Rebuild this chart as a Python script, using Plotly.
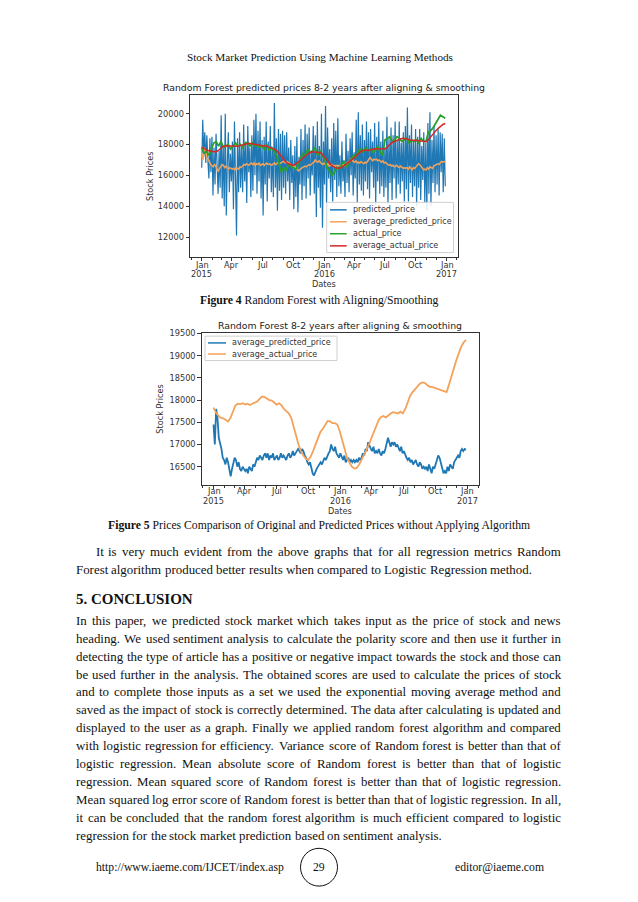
import plotly.graph_objects as go
import pandas as pd

W, H = 638, 902

# ------------------------------------------------------------------ data
# Figure 4: predicted_price (noisy daily-like predictions)
predicted_price = [
    16500, 19600, 17200, 18800, 16800, 18600, 17000, 15800, 18400, 16200,
    18500, 14700, 17800, 15400, 18700, 16400, 14800, 17600, 15200, 19900,
    14500, 17900, 14000, 20000, 13400, 16800, 18800, 14900, 17400, 15600,
    18200, 13800, 19500, 15800, 12100, 18400, 14900, 18800, 15200, 17900,
    14900, 19300, 15600, 18200, 14200, 19200, 16200, 17800, 14600, 18600,
    15000, 19600, 16000, 20000, 14800, 18900, 15600, 19500, 14500, 18300,
    13400, 18500, 15400, 19500, 14300, 18200, 15800, 19200, 14900, 17800,
    14600, 20700, 15200, 18400, 13700, 19000, 15000, 18700, 14400, 18900,
    15200, 18600, 14800, 18800, 15600, 17800, 14400, 18300, 15500, 17300,
    13800, 17900, 14600, 18500, 13600, 17200, 15400, 19000, 14400, 18300,
    15300, 19300, 14500, 18700, 15800, 19100, 14700, 17600, 16000, 19200,
    14800, 18600, 13300, 19500, 15200, 17900, 13900, 20000, 12600, 18200,
    15400, 20500, 14200, 19100, 15800, 17700, 14900, 18400, 14300, 19400,
    15700, 18900, 14600, 19700, 15300, 17300, 14800, 18200, 15600, 17000,
    14600, 18700, 15500, 17600, 14900, 18400, 16000, 18800, 14700, 17500,
    15800, 19600, 14200, 20100, 15400, 18600, 15000, 19300, 14700, 18300,
    15600, 19500, 15100, 18800, 14500, 19000, 16200, 18200, 15200, 19400,
    14100, 18500, 15600, 19500, 14800, 18200, 15300, 18900, 14600, 17800,
    15200, 19800, 14100, 18400, 15500, 19100, 14400, 18600, 15800, 19500,
    14500, 18300, 15400, 19500, 14800, 18100, 15600, 18800, 14300, 19200,
    15100, 20400, 14300, 18600, 15500, 19300, 14600, 18200, 15300, 19000,
    14000, 18500, 15200, 19000, 14400, 17900, 15700, 18800, 14200, 18100,
    13700, 19400, 14800, 20100, 14000, 18300, 15500, 19200, 14900, 18600,
    15400, 19000, 14700, 18800, 16200, 18700, 14900, 18400, 15300,
]

# Figure 4: actual_price
actual_price = [
    17800, 17400, 17600, 17300,
    17700, 18100, 18200, 17900,
    18200, 17800, 17900, 18000,
    17700, 17900, 18100, 17900,
    18000, 17800, 18100, 18100, 17900,
    18100, 17900, 18000, 17800,
    17900, 17700, 18000, 17600,
    17800, 17500, 17300, 16800,
    16200, 16500, 16300, 16700, 16600,
    16500, 16400, 16600, 17100,
    17400, 17300, 17700, 17500,
    17600, 17800, 17300, 17600, 17300,
    17000, 16500, 16300, 16000,
    16200, 16500, 16400, 16700,
    16900, 16500, 16800, 17000,
    17300, 17200, 17600, 17700, 17500,
    17800, 17600, 17700, 17500,
    17600, 17900, 17500, 17300,
    18300, 18400, 18500, 18200,
    18300, 18500, 18400, 18200, 18300,
    18400, 18100, 18300, 18200,
    18300, 18100, 18400, 18200,
    18200, 18800, 18900, 19100,
    19400, 19600, 19900, 19800, 19700,
]

# average_predicted_price (Fig 4 orange, Fig 5 blue)
average_predicted_price = [
    17450, 17000, 17800, 17600, 17150, 17050, 16900, 16700,
    16650, 16550, 16700, 16600, 16400, 16280, 16450, 16550,
    16700, 16650, 16500, 16600, 16450, 16400, 16500, 16450,
    16400, 16450, 16350, 16500, 16450, 16400, 16550, 16500,
    16600, 16700, 16650, 16750, 16700, 16650, 16750, 16800,
    16700, 16800, 16650, 16750, 16700, 16800, 16650, 16700,
    16750, 16650, 16700, 16800, 16700, 16750, 16700, 16650,
    16750, 16800, 16700, 16750, 16850, 16750, 16800, 16850,
    16900, 16850, 16800, 16900, 16850, 16750, 16700, 16600,
    16550, 16600, 16450, 16350, 16300, 16400, 16450, 16500,
    16550, 16600, 16550, 16650, 16700, 16650, 16750, 16800,
    16850, 17000, 16900, 16850, 16950, 16800, 16750, 16700,
    16800, 16700, 16650, 16750, 16600, 16650, 16700, 16600,
    16650, 16600, 16650, 16600, 16650, 16600, 16700, 16650,
    16700, 16800, 16750, 16900, 16850, 17050, 16950, 16900,
    16850, 16950, 16800, 16850, 16800, 16900, 16800, 16750,
    16850, 16800, 16900, 17000, 17150, 17050, 16950, 17050,
    17000, 17050, 16950, 17000, 16900, 16850, 16950, 16800,
    16850, 16750, 16700, 16650, 16700, 16600, 16650, 16550,
    16600, 16650, 16550, 16500, 16600, 16550, 16450, 16500,
    16450, 16500, 16400, 16550, 16450, 16350, 16500, 16450,
    16550, 16650, 16750, 16700, 16600, 16450, 16350, 16400,
    16350, 16500, 16400, 16550, 16500, 16450, 16600, 16650,
    16700, 16750, 16700, 16850, 16900, 16850, 16900, 16880,
]

# average_actual_price (Fig 4 red, Fig 5 orange) - weekly
average_actual_price = [
    17830, 17720, 17650, 17600, 17590, 17560, 17520, 17600, 17750, 17880,
    17920, 17910, 17930, 17900, 17920, 17890, 17920, 17950, 17970, 18030,
    18080, 18070, 18030, 18000, 17990, 17950, 17900, 17930, 17880, 17800,
    17760, 17700, 17600, 17420, 17200, 17000, 16850, 16750, 16680, 16650,
    16720, 16850, 17000, 17150, 17280, 17350, 17450, 17530, 17520, 17480,
    17480, 17450, 17300, 17100, 16900, 16700, 16600, 16500, 16460, 16470,
    16550, 16650, 16750, 16880, 17000, 17130, 17280, 17420, 17550, 17620,
    17640, 17610, 17660, 17700, 17730, 17720, 17700, 17740, 17700, 17800,
    17960, 18100, 18180, 18250, 18320, 18370, 18400, 18390, 18340, 18300,
    18300, 18280, 18260, 18240, 18220, 18200, 18180, 18350, 18550, 18720,
    18900, 19050, 19200, 19300, 19360,
]

tick_dates = ["2015-01-01", "2015-04-01", "2015-07-01", "2015-10-01", "2016-01-01",
              "2016-04-01", "2016-07-01", "2016-10-01", "2017-01-01"]
tick_month = ["Jan", "Apr", "Jul", "Oct", "Jan", "Apr", "Jul", "Oct", "Jan"]
tick_year = ["2015", "", "", "", "2016", "", "", "", "2017"]
fig4_yticks = [12000, 14000, 16000, 18000, 20000]
fig5_yticks = [16500, 17000, 17500, 18000, 18500, 19000, 19500]

START, END = "2015-01-01", "2016-12-28"


def dates_for(values):
    return pd.date_range(START, END, periods=len(values))


# ------------------------------------------------------------------ styles
BLUE, ORANGE, GREEN, RED = "#1f77b4", "#f4a259", "#2ca02c", "#d62728"
AX = "#333333"
MPL = "DejaVu Sans"
SERIF = "Liberation Serif, Times New Roman, serif"
INK = "#111111"


def px(x):
    return x / W


def py(y):
    return 1 - y / H


fig = go.Figure()

# Figure 4 traces
fig.add_trace(go.Scatter(x=dates_for(predicted_price), y=predicted_price, name="predicted_price",
                         mode="lines", line=dict(color=BLUE, width=1.2), xaxis="x", yaxis="y"))
fig.add_trace(go.Scatter(x=dates_for(average_predicted_price), y=average_predicted_price,
                         name="average_predicted_price", mode="lines",
                         line=dict(color=ORANGE, width=1.5), xaxis="x", yaxis="y"))
fig.add_trace(go.Scatter(x=dates_for(actual_price), y=actual_price, name="actual_price",
                         mode="lines", line=dict(color=GREEN, width=1.8), xaxis="x", yaxis="y"))
fig.add_trace(go.Scatter(x=dates_for(average_actual_price), y=average_actual_price,
                         name="average_actual_price", mode="lines",
                         line=dict(color=RED, width=1.5), xaxis="x", yaxis="y"))

# Figure 5 traces
fig.add_trace(go.Scatter(x=dates_for(average_predicted_price), y=average_predicted_price,
                         name="average_predicted_price", mode="lines",
                         line=dict(color=BLUE, width=1.8), xaxis="x2", yaxis="y2"))
fig.add_trace(go.Scatter(x=dates_for(average_actual_price), y=average_actual_price,
                         name="average_actual_price", mode="lines",
                         line=dict(color=ORANGE, width=1.8), xaxis="x2", yaxis="y2"))


def xaxis(domain, rng, anchor):
    return dict(domain=[px(domain[0]), px(domain[1])], range=rng, anchor=anchor,
                tickmode="array", tickvals=tick_dates, showticklabels=False,
                ticks="outside", ticklen=3.5, tickwidth=1, tickcolor=AX,
                showline=True, mirror=True, linecolor=AX, linewidth=1,
                showgrid=False, zeroline=False,
                minor=dict(ticks="outside", ticklen=2, tickcolor=AX, dtick="M1",
                           tick0="2015-01-01", showgrid=False))


def yaxis(domain, rng, anchor, vals):
    return dict(domain=[py(domain[1]), py(domain[0])], range=rng, anchor=anchor,
                tickmode="array", tickvals=vals, ticktext=[str(v) for v in vals],
                ticks="outside", ticklen=3.5, tickwidth=1, tickcolor=AX,
                showline=True, mirror=True, linecolor=AX, linewidth=1,
                showgrid=False, zeroline=False,
                tickfont=dict(family=MPL, size=8.2, color=AX))


fig.update_layout(
    width=W, height=H, autosize=False,
    margin=dict(l=0, r=0, t=0, b=0, pad=0),
    paper_bgcolor="white", plot_bgcolor="white",
    showlegend=False,
    xaxis=xaxis((190, 458), ["2014-11-27", "2017-02-04"], "y"),
    yaxis=yaxis((91, 253), [10730, 21180], "x", fig4_yticks),
    xaxis2=xaxis((201.7, 478.5), ["2014-11-28", "2017-02-02"], "y2"),
    yaxis2=yaxis((330, 482.5), [16090, 19510], "x2", fig5_yticks),
)

annotations = []
shapes = []


def text(t, x, y, size, family=SERIF, color=INK, xanchor="center", angle=0, xref="paper"):
    annotations.append(dict(text=t, x=(px(x) if xref == "paper" else x), y=py(y),
                            xref=xref, yref="paper",
                            xanchor=xanchor, yanchor="middle", showarrow=False,
                            textangle=angle, borderpad=0, borderwidth=0,
                            font=dict(family=family, size=size, color=color)))


# x tick labels (month row + year row), positioned through the date axes
for xref, y_month, y_year in (("x", 261.3, 270.3), ("x2", 488.8, 498.3)):
    for d, m, yr in zip(tick_dates, tick_month, tick_year):
        text(m, d, y_month, 8.2, MPL, AX, xref=xref)
        if yr:
            text(yr, d, y_year, 8.2, MPL, AX, xref=xref)

# chart texts
text("Random Forest predicted prices 8-2 years after aligning &amp; smoothing", 324, 83, 9.3, MPL, "#222")
text("Stock Prices", 150, 172, 8.2, MPL, AX, angle=-90)
text("Dates", 324, 280.8, 8.2, MPL, AX)
text("Random Forest 8-2 years after aligning &amp; smoothing", 340, 322.5, 9.3, MPL, "#222")
text("Stock Prices", 160, 406, 8.2, MPL, AX, angle=-90)
text("Dates", 340, 508.6, 8.2, MPL, AX)


def legend(box, entries, line_x, text_x):
    x0, y0, x1, y1 = box
    shapes.append(dict(type="rect", xref="paper", yref="paper", x0=px(x0), x1=px(x1),
                       y0=py(y1), y1=py(y0), line=dict(color="#d0d0d0", width=1),
                       fillcolor="rgba(255,255,255,0.85)", layer="above"))
    for name, color, y in entries:
        shapes.append(dict(type="line", xref="paper", yref="paper", x0=px(line_x[0]),
                           x1=px(line_x[1]), y0=py(y), y1=py(y),
                           line=dict(color=color, width=1.5), layer="above"))
        text(name, text_x, y, 8.0, MPL, AX, xanchor="left")


legend((326.7, 198.5, 453.5, 249),
       [("predicted_price", BLUE, 206), ("average_predicted_price", ORANGE, 218),
        ("actual_price", GREEN, 230), ("average_actual_price", RED, 242.2)],
       (330, 346.7), 352.5)
legend((205, 333, 337, 357.5),
       [("average_predicted_price", BLUE, 339.8), ("average_actual_price", ORANGE, 351)],
       (208, 226), 231.5)

# ------------------------------------------------------------------ page text
TIMES = {
    " ": 250, "!": 333, "(": 333, ")": 333, ",": 250, "-": 333, ".": 250, "/": 278,
    ":": 278, ";": 278, "@": 921, "&": 778, "'": 333,
    "0": 500, "1": 500, "2": 500, "3": 500, "4": 500, "5": 500, "6": 500, "7": 500,
    "8": 500, "9": 500,
    "A": 722, "B": 667, "C": 667, "D": 722, "E": 611, "F": 556, "G": 722, "H": 722,
    "I": 333, "J": 389, "K": 722, "L": 611, "M": 889, "N": 722, "O": 722, "P": 556,
    "Q": 722, "R": 667, "S": 556, "T": 611, "U": 722, "V": 722, "W": 944, "X": 722,
    "Y": 722, "Z": 611,
    "a": 444, "b": 500, "c": 444, "d": 500, "e": 444, "f": 333, "g": 500, "h": 500,
    "i": 278, "j": 278, "k": 500, "l": 278, "m": 778, "n": 500, "o": 500, "p": 500,
    "q": 500, "r": 333, "s": 389, "t": 278, "u": 500, "v": 500, "w": 722, "x": 500,
    "y": 500, "z": 444,
}


def tw(s, size):
    return sum(TIMES.get(c, 500) for c in s) * size / 1000.0


def line_text(line, x0, x1, y, size, justify=True):
    words = line.split(" ")
    widths = [tw(w, size) for w in words]
    if justify and len(words) > 1:
        gap = (x1 - x0 - sum(widths)) / (len(words) - 1)
    else:
        gap = tw(" ", size)
    x = x0
    for w, wd in zip(words, widths):
        text(w, x, y, size, xanchor="left")
        x += wd + gap


BODY = 12.9
LEFT, RIGHT = 76, 561

text("Stock Market Prediction Using Machine Learning Methods", 320, 52, 11.2)
text("<b>Figure 4</b> Random Forest with Aligning/Smoothing", 319, 297, 11.7)
text("<b>Figure 5</b> Prices Comparison of Original and Predicted Prices without Applying Algorithm",
     319, 523, 11.7)

line_text("It is very much evident from the above graphs that for all regression metrics Random",
          95.5, RIGHT, 550, BODY)
line_text("Forest algorithm produced better results when compared to Logistic Regression method.",
          LEFT, RIGHT, 568.5, BODY, justify=False)

text("<b>5. CONCLUSION</b>", LEFT, 597, 15, xanchor="left")

conclusion = [
    "In this paper, we predicted stock market which takes input as the price of stock and news",
    "heading. We used sentiment analysis to calculate the polarity score and then use it further in",
    "detecting the type of article has a positive or negative impact towards the stock and those can",
    "be used further in the analysis. The obtained scores are used to calculate the prices of stock",
    "and to complete those inputs as a set we used the exponential moving average method and",
    "saved as the impact of stock is correctly determined. The data after calculating is updated and",
    "displayed to the user as a graph. Finally we applied random forest algorithm and compared",
    "with logistic regression for efficiency. Variance score of Random forest is better than that of",
    "logistic regression. Mean absolute score of Random forest is better than that of logistic",
    "regression. Mean squared score of Random forest is better than that of logistic regression.",
    "Mean squared log error score of Random forest is better than that of logistic regression. In all,",
    "it can be concluded that the random forest algorithm is much efficient compared to logistic",
    "regression for the stock market prediction based on sentiment analysis.",
]
for i, ln in enumerate(conclusion):
    line_text(ln, LEFT, RIGHT, 619 + i * 18.08, BODY, justify=(i < len(conclusion) - 1))

# footer
text("http://www.iaeme.com/IJCET/index.asp", 96, 867, 11.7, xanchor="left")
text("29", 319, 867, 11.7)
text("editor@iaeme.com", 455, 867, 11.7, xanchor="left")
shapes.append(dict(type="circle", xref="paper", yref="paper", x0=px(300.5), x1=px(337.5),
                   y0=py(886), y1=py(848), line=dict(color=INK, width=1)))

fig.update_layout(annotations=annotations, shapes=shapes)
fig.write_html("out.html",
               config={"displayModeBar": False, "staticPlot": True},
               post_script="document.body.style.margin='0px';document.body.style.overflow='hidden';")
